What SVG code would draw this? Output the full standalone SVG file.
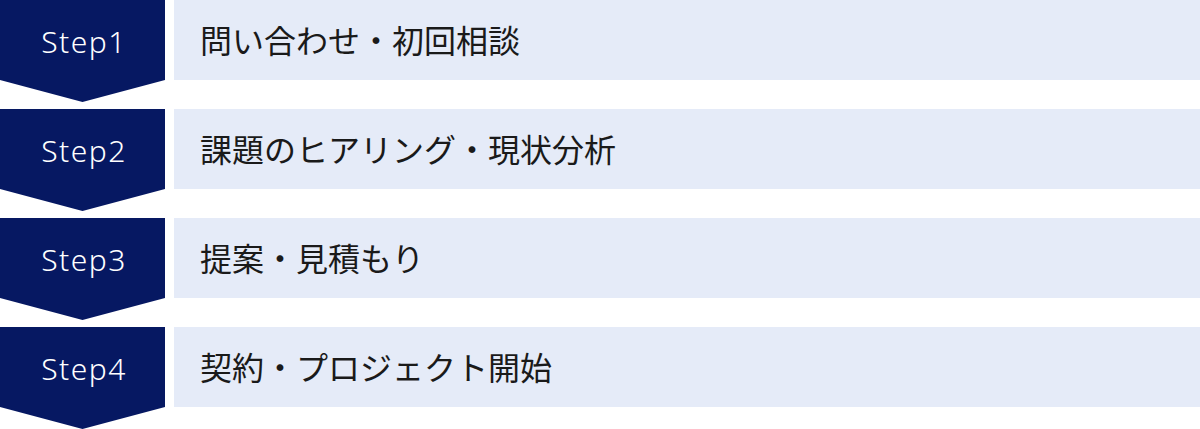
<svg xmlns="http://www.w3.org/2000/svg" width="1200" height="429" viewBox="0 0 1200 429">
  <style>
    .badge { fill: #061862; }
    .panel { fill: #E5EBF8; }
    .step { font-family: "Noto Sans", "DejaVu Sans", sans-serif; font-size: 30px; font-weight: 350; letter-spacing: 1.5px; fill: #FFFFFF; text-anchor: middle; }
    .label { font-family: "Noto Sans CJK JP", "Noto Sans", sans-serif; font-size: 32px; fill: #1A1A1A; }
  </style>
  <rect width="1200" height="429" fill="#FFFFFF"/>
  <g id="step1">
    <polygon class="badge" points="0,0 165,0 165,80 82.5,102 0,80"/>
    <text class="step" x="84" y="52.5">Step1</text>
    <rect class="panel" x="174" y="0" width="1026" height="80"/>
    <text class="label" x="200" y="52.5">問い合わせ・初回相談</text>
  </g>
  <g id="step2">
    <polygon class="badge" points="0,109 165,109 165,189 82.5,211 0,189"/>
    <text class="step" x="84" y="161.5">Step2</text>
    <rect class="panel" x="174" y="109" width="1026" height="80"/>
    <text class="label" x="200" y="161.5">課題のヒアリング・現状分析</text>
  </g>
  <g id="step3">
    <polygon class="badge" points="0,218 165,218 165,298 82.5,320 0,298"/>
    <text class="step" x="84" y="270.5">Step3</text>
    <rect class="panel" x="174" y="218" width="1026" height="80"/>
    <text class="label" x="200" y="270.5">提案・見積もり</text>
  </g>
  <g id="step4">
    <polygon class="badge" points="0,327 165,327 165,407 82.5,429 0,407"/>
    <text class="step" x="84" y="379.5">Step4</text>
    <rect class="panel" x="174" y="327" width="1026" height="80"/>
    <text class="label" x="200" y="379.5">契約・プロジェクト開始</text>
  </g>
  <g id="connectors"></g>
</svg>
